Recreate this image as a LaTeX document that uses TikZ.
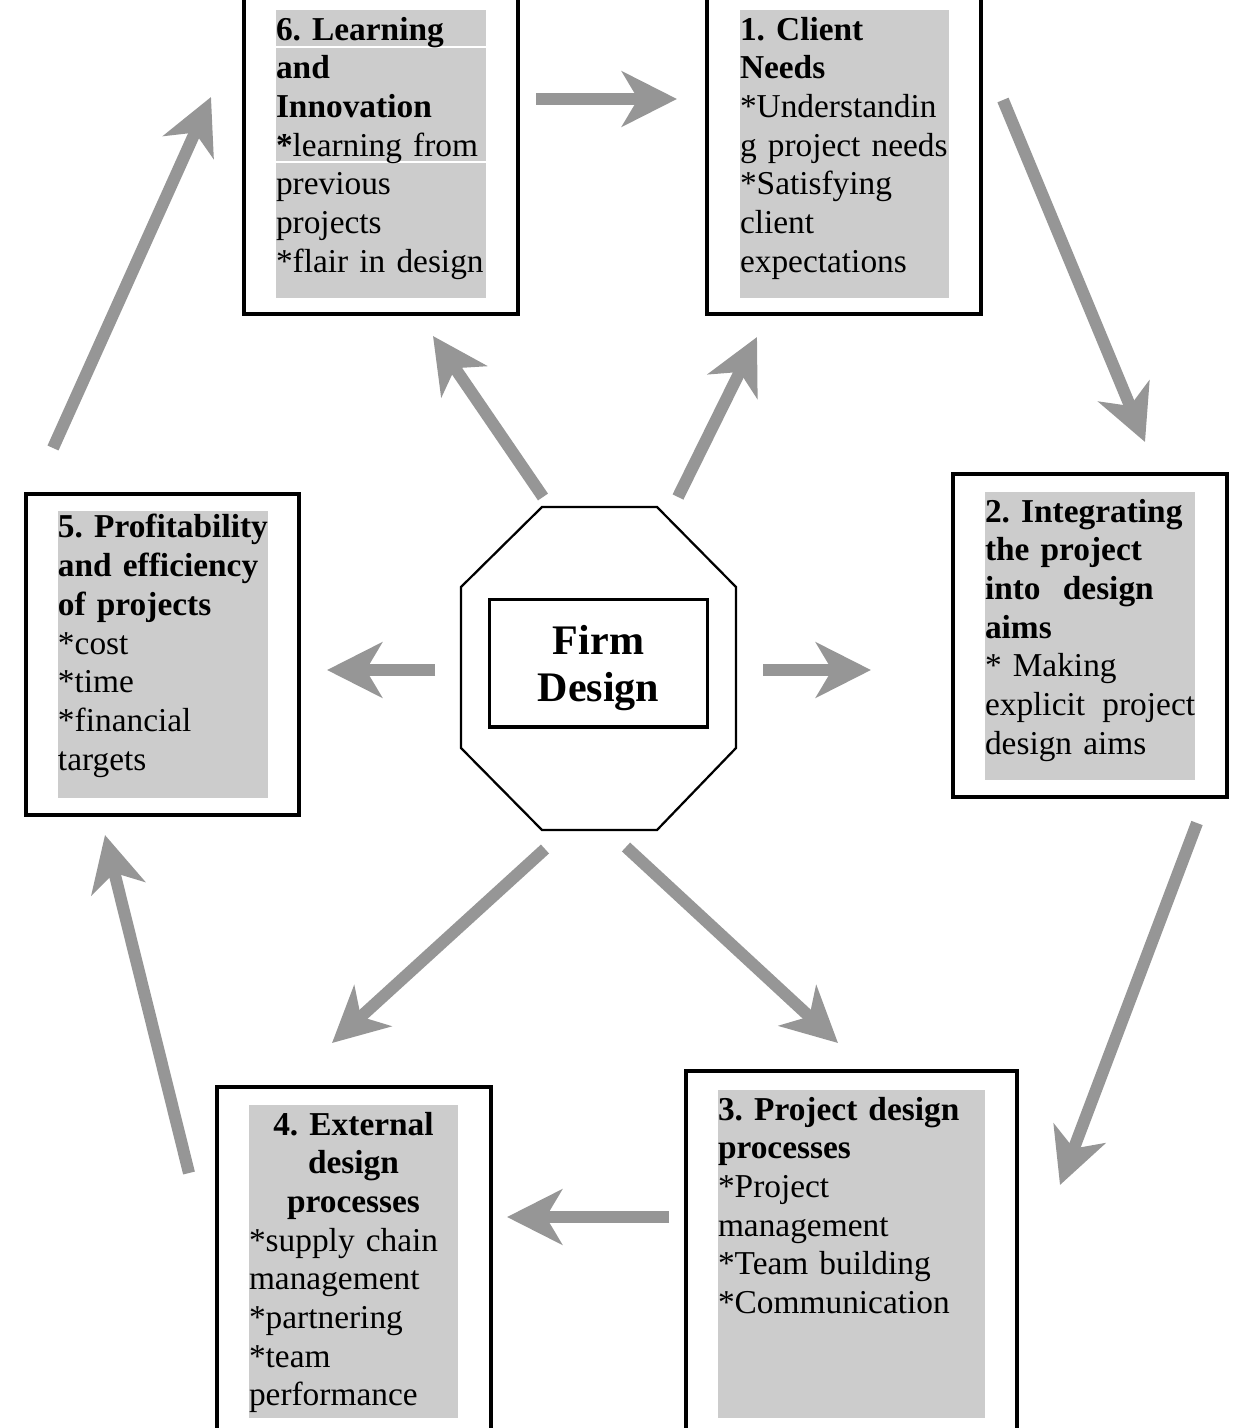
\documentclass[tikz,border=0pt]{standalone}
\usepackage{fontspec}
\setmainfont{Liberation Serif}
\usetikzlibrary{positioning, fit, arrows.meta}

\definecolor{arrowgray}{RGB}{150,150,150}
\definecolor{boxgray}{RGB}{204,204,204}
\newcommand{\boxstrut}{\rule{0pt}{10.7pt}}
\frenchspacing
\hyphenpenalty=10000

\begin{document}
\begin{tikzpicture}[
    x=0.3565pt, y=-0.3565pt,
    flow/.style={
        -{Stealth[length=19.6pt, width=19.6pt, inset=5.7pt]},
        line width=4.3pt,
        draw=arrowgray
    },
    frame/.style={
        rectangle,
        draw,
        line width=1.2pt,
        inner sep=0pt
    },
    shade/.style={
        rectangle,
        fill=boxgray,
        inner sep=0pt
    },
    txt/.style={
        anchor=north west,
        inner sep=0pt,
        align=left,
        text width=100pt,
        font=\fontsize{11.9}{13.8}\selectfont
    },
    core/.style={
        rectangle,
        draw,
        line width=1.1pt,
        minimum width=77.4pt,
        minimum height=45.6pt,
        align=center,
        font=\fontsize{15}{16.8}\selectfont\bfseries
    }
]

    \useasboundingbox (0,0) rectangle (1251,1428);

    % --- Centre ---
    \draw[line width=0.8pt, fill=white] (542,507) -- (657,507) -- (736,587) -- (736,748)
        -- (657,830) -- (542,830) -- (461,748) -- (461,587) -- cycle;
    \node[core] (firm) at (598.5,663) {\rule{0pt}{14pt}Firm\\Design};

    % --- 6. Learning and Innovation ---
    \node[frame, fit={(244,-10) (518,314)}] (f6) {};
    \node[shade, fit={(276,10) (486,298)}] (g6) {};
    \draw[white, line width=0.5pt] (g6.west |- 0,47) -- (g6.east |- 0,47);
    \draw[white, line width=0.5pt] (g6.west |- 0,162) -- (g6.east |- 0,162);
    \node[txt] (t6) at (g6.north west) {\boxstrut\textbf{6. Learning}\\
        \textbf{and}\\ \textbf{Innovation}\\ \textbf{*}learning from\\ previous\\ projects\\ {}*flair in design};

    % --- 1. Client Needs ---
    \node[frame, fit={(707,-10) (981,314)}] (f1) {};
    \node[shade, fit={(740,10) (949,298)}] (g1) {};
    \node[txt] (t1) at (g1.north west) {\boxstrut\textbf{1. Client}\\
        \textbf{Needs}\\ {}*Understandin\\ g project needs\\ {}*Satisfying\\ client\\ expectations};

    % --- 2. Integrating the project into design aims ---
    \node[frame, fit={(953,474) (1227,797)}] (f2) {};
    \node[shade, fit={(985,492) (1195,780)}] (g2) {};
    \node[txt] (t2) at (g2.north west) {\boxstrut\textbf{2. Integrating}\\
        \textbf{the project}\\ \textbf{into\ \ design}\\ \textbf{aims}\\ {}* Making\\
        \makebox[74.9pt][s]{explicit\hfill project}\\ design aims};

    % --- 3. Project design processes ---
    \node[frame, fit={(686,1071) (1017,1445)}] (f3) {};
    \node[shade, fit={(718,1090) (985,1418)}] (g3) {};
    \node[txt] (t3) at (g3.north west) {\boxstrut\textbf{3. Project design}\\
        \textbf{processes}\\ {}*Project\\ management\\ {}*Team building\\ {}*Communication};

    % --- 4. External design processes ---
    \node[frame, fit={(217,1087) (491,1445)}] (f4) {};
    \node[shade, fit={(249,1105) (458,1418)}] (g4) {};
    \node[txt] (t4) at (g4.north west) {\boxstrut\makebox[74.5pt]{\textbf{4. External}}\\
        \makebox[74.5pt]{\textbf{design}}\\ \makebox[74.5pt]{\textbf{processes}}\\
        {}*supply chain\\ management\\ {}*partnering\\ {}*team\\ performance};

    % --- 5. Profitability and efficiency of projects ---
    \node[frame, fit={(26,494) (299,815)}] (f5) {};
    \node[shade, fit={(58,511) (268,798)}] (g5) {};
    \node[txt] (t5) at (g5.north west) {\rule{0pt}{9.6pt}\textbf{5. Profitability}\\
        \textbf{and efficiency}\\ \textbf{of projects}\\ {}*cost\\ {}*time\\ {}*financial\\ targets};

    % --- Cycle arrows ---
    \coordinate (s61) at (536,99);    \coordinate (e61) at (677,99);
    \coordinate (s12) at (1003,100);  \coordinate (e12) at (1145,442);
    \coordinate (s23) at (1197,823);  \coordinate (e23) at (1060,1185);
    \coordinate (s34) at (669,1217);  \coordinate (e34) at (507,1217);
    \coordinate (s45) at (189,1173);  \coordinate (e45) at (105,835);
    \coordinate (s56) at (53,448);    \coordinate (e56) at (211,97);
    \draw[flow] (s61) -- (e61);
    \draw[flow] (s12) -- (e12);
    \draw[flow] (s23) -- (e23);
    \draw[flow] (s34) -- (e34);
    \draw[flow] (s45) -- (e45);
    \draw[flow] (s56) -- (e56);

    % --- Arrows out of the centre ---
    \coordinate (sc6) at (543,497);   \coordinate (ec6) at (433,336);
    \coordinate (sc1) at (678,497);   \coordinate (ec1) at (757,337);
    \coordinate (sc2) at (763,670);   \coordinate (ec2) at (871,670);
    \coordinate (sc5) at (435,670);   \coordinate (ec5) at (327,670);
    \coordinate (sc4) at (545,849);   \coordinate (ec4) at (332,1043);
    \coordinate (sc3) at (626,847);   \coordinate (ec3) at (838,1043);
    \draw[flow] (sc6) -- (ec6);
    \draw[flow] (sc1) -- (ec1);
    \draw[flow] (sc2) -- (ec2);
    \draw[flow] (sc5) -- (ec5);
    \draw[flow] (sc4) -- (ec4);
    \draw[flow] (sc3) -- (ec3);

\end{tikzpicture}
\end{document}
